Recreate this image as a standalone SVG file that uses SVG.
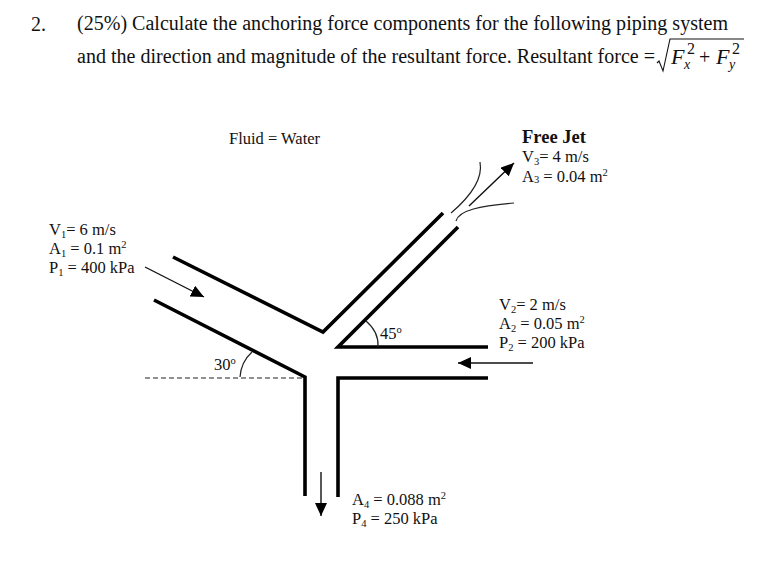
<svg xmlns="http://www.w3.org/2000/svg" width="773" height="578" viewBox="0 0 773 578">
<style>
text{font-family:"Liberation Serif","Times New Roman",serif;font-size:16.5px;fill:#111}
.h{font-size:20px}
.m{font-style:italic;font-size:22px}
.s{font-size:10.5px}
.e{font-size:16px}
.i{font-style:italic;font-size:14px}
.pipe{fill:none;stroke:#000;stroke-width:3.6;stroke-linejoin:miter}
.thin{fill:none;stroke:#222;stroke-width:1.2}
.arr{fill:none;stroke:#111;stroke-width:1.4;marker-end:url(#a)}
</style>
<defs><marker id="a" markerUnits="userSpaceOnUse" markerWidth="15" markerHeight="13" refX="13" refY="6" orient="auto"><path d="M0 0L13 6L0 12z" fill="#000"/></marker></defs>
<rect width="773" height="578" fill="#fff"/>
<g id="question">
<text class="h" x="31" y="31">2.</text>
<text class="h" x="77" y="30" textLength="651" lengthAdjust="spacingAndGlyphs">(25%) Calculate the anchoring force components for the following piping system</text>
<text class="h" x="77" y="63" textLength="578" lengthAdjust="spacingAndGlyphs">and the direction and magnitude of the resultant force. Resultant force =</text>
<path d="M657 63L659 61L663 71L670 39H744" fill="none" stroke="#111" stroke-width="1.1"/>
<text class="m" x="671" y="64">F</text><text class="e" x="687" y="54">2</text><text class="i" x="684" y="69">x</text>
<text class="h" x="699" y="64">+</text>
<text class="m" x="716" y="64">F</text><text class="e" x="732" y="54">2</text><text class="i" x="729" y="69">y</text>
</g>
<g id="connectors">
<path class="arr" d="M145 267L204 297"/>
<path class="arr" d="M533 363L458 363"/>
<path class="arr" d="M469 206L514 163"/>
<path class="arr" d="M321 472L321 516"/>
</g>
<g id="pipe">
<path class="pipe" d="M173 257L323 332L443 213"/>
<path class="pipe" d="M458 227L338 347H488"/>
<path class="pipe" d="M154 300L305 377V496"/>
<path class="pipe" d="M488 378H338V497"/>
</g>
<g id="guides">
<path d="M145 378H305" fill="none" stroke="#222" stroke-width="1.2" stroke-dasharray="5 3"/>
<path class="thin" d="M240 377Q241 362 252 352"/>
<path class="thin" d="M366 321Q379 332 378 347"/>
<path class="thin" d="M451 213C471 196 483 178 480 162"/>
<path class="thin" d="M456 221C459 210 480 206 514 203"/>
</g>
<g id="fluid"><text x="229" y="144">Fluid = Water</text></g>
<g id="jet">
<text x="522" y="143" style="font-weight:bold;font-size:18.5px">Free Jet</text>
<text x="522" y="162">V<tspan class="s" dy="3">3</tspan><tspan dy="-3">= 4 m/s</tspan></text>
<text x="522" y="182">A<tspan class="s" dy="1">3</tspan><tspan dy="-1"> = 0.04 m</tspan><tspan class="s" dy="-6">2</tspan></text>
</g>
<g id="inlet1">
<text x="49" y="235">V<tspan class="s" dy="3">1</tspan><tspan dy="-3">= 6 m/s</tspan></text>
<text x="49" y="254">A<tspan class="s" dy="3">1</tspan><tspan dy="-3"> = 0.1 m</tspan><tspan class="s" dy="-6">2</tspan></text>
<text x="49" y="273">P<tspan class="s" dy="3">1</tspan><tspan dy="-3"> = 400 kPa</tspan></text>
</g>
<g id="inlet2">
<text x="499" y="310">V<tspan class="s" dy="3">2</tspan><tspan dy="-3">= 2 m/s</tspan></text>
<text x="499" y="329">A<tspan class="s" dy="3">2</tspan><tspan dy="-3"> = 0.05 m</tspan><tspan class="s" dy="-6">2</tspan></text>
<text x="499" y="348">P<tspan class="s" dy="3">2</tspan><tspan dy="-3"> = 200 kPa</tspan></text>
</g>
<g id="outlet">
<text x="352" y="505">A<tspan class="s" dy="3">4</tspan><tspan dy="-3"> = 0.088 m</tspan><tspan class="s" dy="-6">2</tspan></text>
<text x="352" y="524">P<tspan class="s" dy="3">4</tspan><tspan dy="-3"> = 250 kPa</tspan></text>
</g>
<g id="angles">
<text x="214" y="370">30<tspan class="s" dy="-6">o</tspan></text>
<text x="380" y="339">45<tspan class="s" dy="-6">o</tspan></text>
</g>
</svg>
